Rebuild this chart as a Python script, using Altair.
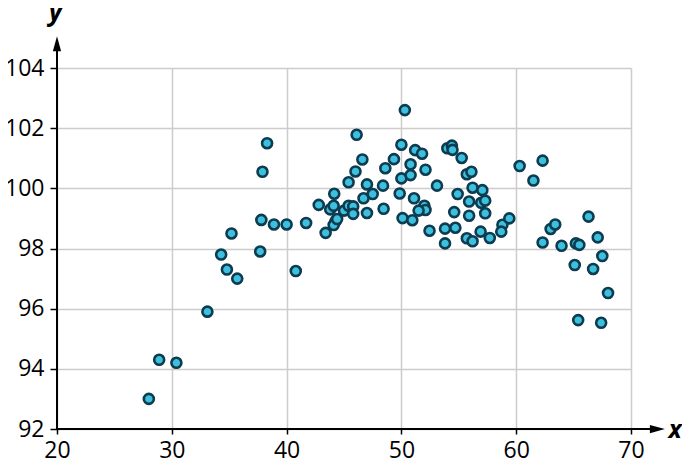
import altair as alt
import pandas as pd

xs = [28.0, 28.9, 30.4, 33.1, 34.3, 34.8, 35.7, 35.2, 37.7, 37.8, 37.9, 38.3, 38.9, 40.0, 40.8,
      41.7, 42.8, 43.4, 43.8, 44.1, 44.15, 44.25, 44.1, 44.4, 45.0, 45.4, 45.8, 45.8, 45.4, 46.0,
      46.1, 46.6, 47.0, 46.7, 47.5, 47.0, 48.4, 48.6, 49.35, 48.45, 50.0, 50.3, 50.0, 49.85, 50.1,
      50.95, 51.2, 51.8, 50.8, 50.8, 52.1, 53.1, 51.1, 52.0, 52.1, 51.5, 52.45, 53.8, 54.7, 53.8,
      54.0, 54.4, 54.45, 55.25, 55.7, 56.1, 54.9, 56.2, 57.05, 55.9, 56.95, 57.3, 54.6, 55.9, 57.3,
      55.7, 56.2, 56.9, 57.7, 58.8, 58.7, 59.4, 60.3, 61.5, 62.3, 62.3, 63.0, 63.4, 63.95, 65.2,
      65.5, 65.1, 66.3, 67.1, 67.5, 66.7, 68.0, 65.4, 67.4]
ys = [93.0, 94.3, 94.2, 95.9, 97.8, 97.3, 97.0, 98.5, 97.9, 98.95, 100.55, 101.5, 98.8, 98.8, 97.25,
      98.85, 99.45, 98.52, 99.3, 99.42, 99.82, 98.9, 98.78, 98.98, 99.26, 99.42, 99.4, 99.15, 100.2, 100.56,
      101.78, 100.96, 100.13, 99.67, 99.81, 99.18, 100.09, 100.67, 100.97, 99.32, 101.45, 102.6, 100.33, 99.83, 99.01,
      98.94, 101.27, 101.15, 100.8, 100.44, 100.62, 100.09, 99.67, 99.42, 99.28, 99.26, 98.59, 98.66, 98.69, 98.17,
      101.33, 101.42, 101.28, 101.01, 100.47, 100.55, 99.81, 100.02, 99.94, 99.56, 99.52, 99.59, 99.21, 99.09, 99.17,
      98.34, 98.24, 98.56, 98.35, 98.79, 98.56, 99.0, 100.74, 100.26, 100.92, 98.2, 98.65, 98.8, 98.09, 98.17,
      98.12, 97.45, 99.06, 98.37, 97.75, 97.32, 96.52, 95.62, 95.53]

x_ticks = [20, 30, 40, 50, 60, 70]
y_ticks = [92, 94, 96, 98, 100, 102, 104]

df = pd.DataFrame({"x": xs, "y": ys})

xscale = alt.Scale(domain=[20, 70], nice=False, zero=False)
yscale = alt.Scale(domain=[92, 104], nice=False, zero=False)

FONT = "Open Sans"

xaxis = alt.Axis(values=x_ticks, grid=True, gridColor="#cccccc", gridWidth=1.5,
                 domain=False, ticks=True, tickColor="black", tickWidth=1.5, tickSize=5,
                 labelFont=FONT, labelFontSize=23, labelColor="black", labelPadding=5,
                 labelFlush=False,
                 title="x", titleFont=FONT, titleFontSize=25, titleFontStyle="italic",
                 titleFontWeight="bold", titleColor="black", titleX=611, titleY=8,
                 titleAlign="left", titleBaseline="alphabetic", titleAnchor="start")
yaxis = alt.Axis(values=y_ticks, grid=True, gridColor="#cccccc", gridWidth=1.5,
                 domain=False, ticks=True, tickColor="black", tickWidth=1.5, tickSize=7,
                 labelFont=FONT, labelFontSize=23, labelColor="black", labelPadding=6,
                 labelFlush=False,
                 title="y", titleFont=FONT, titleFontSize=26, titleFontStyle="italic",
                 titleFontWeight="bold", titleColor="black", titleX=-2, titleY=-48,
                 titleAngle=0, titleAlign="center", titleBaseline="alphabetic")

points = alt.Chart(df).mark_circle(
    size=100, color="#3cc0de", opacity=1, stroke="#0d3b4f", strokeWidth=2.6
).encode(
    x=alt.X("x:Q", scale=xscale, axis=xaxis),
    y=alt.Y("y:Q", scale=yscale, axis=yaxis),
)

# axis lines with arrows
xline = pd.DataFrame({"x": [20], "x2": [72.4], "y": [92]})
yline = pd.DataFrame({"x": [20], "y": [92], "y2": [104.85]})

xrule = alt.Chart(xline).mark_rule(color="black", strokeWidth=2, clip=False).encode(
    x=alt.X("x:Q", scale=xscale), x2="x2:Q", y=alt.Y("y:Q", scale=yscale))
yrule = alt.Chart(yline).mark_rule(color="black", strokeWidth=2, clip=False).encode(
    x=alt.X("x:Q", scale=xscale), y=alt.Y("y:Q", scale=yscale), y2="y2:Q")

xarrow = alt.Chart(pd.DataFrame({"x": [72.3], "y": [92]})).mark_point(
    shape="M -1 -0.55 L 1 0 L -1 0.55 Z", size=225, filled=True, color="black",
    opacity=1, clip=False).encode(x=alt.X("x:Q", scale=xscale), y=alt.Y("y:Q", scale=yscale))
yarrow = alt.Chart(pd.DataFrame({"x": [20], "y": [104.81]})).mark_point(
    shape="M -0.55 1 L 0 -1 L 0.55 1 Z", size=225, filled=True, color="black",
    opacity=1, clip=False).encode(x=alt.X("x:Q", scale=xscale), y=alt.Y("y:Q", scale=yscale))

chart = alt.layer(points, xrule, yrule, xarrow, yarrow).properties(
    width=574, height=361,
    padding={"left": 49, "top": 60, "right": 51, "bottom": 33},
    autosize=alt.AutoSizeParams(type="none"),
).configure_view(stroke=None)

chart.save("out.html", embed_options={"renderer": "svg", "actions": False})
